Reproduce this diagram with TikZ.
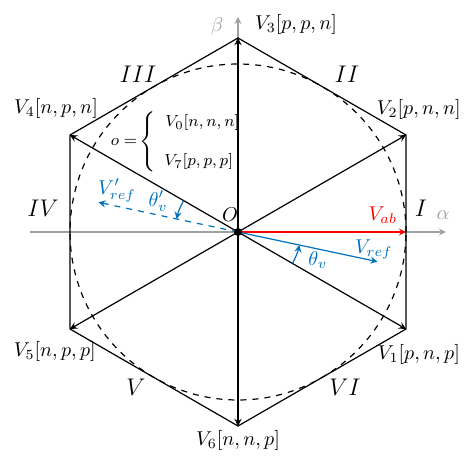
\documentclass[tikz,border=0pt]{standalone}
\usepackage{amsmath, amssymb}
\usepackage{tikz}
\usetikzlibrary{arrows,%
                shapes,positioning}
\definecolor{refblue}{RGB}{0,114,189}
\definecolor{axisgray}{RGB}{160,160,160}

\begin{document}
\begin{tikzpicture}[>=stealth]
\tikzset{axis/.style={axisgray, semithick, ->},
         spoke/.style={black, semithick, ->},
         hexa/.style={black, semithick},
         sector/.style={font=\large},
         zerostate/.style={font=\footnotesize, anchor=west, inner sep=1pt}}
\useasboundingbox (-4.171,-4.083) rectangle (4.136,4.066);

\coordinate (O) at (0,0);
\coordinate (V1) at (-30:3.4);
\coordinate (V2) at (30:3.4);
\coordinate (V3) at (90:3.4);
\coordinate (V4) at (150:3.4);
\coordinate (V5) at (210:3.4);
\coordinate (V6) at (270:3.4);
\coordinate (alphaL) at (-3.645,0);
\coordinate (alphaR) at (3.645,0);
\coordinate (betaB) at (0,-3.38);
\coordinate (betaT) at (0,3.77);
\coordinate (Vab) at (2.944,0);
\coordinate (Vref) at (-12:2.5);
\coordinate (Vrefp) at (168:2.5);

% axes
\draw[axis] (alphaL) -- (alphaR);
\draw[axis] (betaB) -- (betaT);
\node[axisgray] (alpha) at (3.593,0.30) {$\alpha$};
\node[axisgray] (beta) at (-0.368,3.61) {$\beta$};

% inscribed circle and hexagon
\draw[semithick, dashed] (O) circle (2.944);
\draw[hexa] (V1) -- (V2) -- (V3) -- (V4) -- (V5) -- (V6) -- cycle;

\draw[spoke] (O) -- (V1);
\draw[spoke] (O) -- (V2);
\draw[spoke] (O) -- (V3);
\draw[spoke] (O) -- (V4);
\draw[spoke] (O) -- (V5);
\draw[spoke] (O) -- (V6);

% reference vectors
\draw[red, semithick, ->] (O) -- (Vab);
\draw[refblue, semithick, ->] (O) -- (Vref);
\draw[refblue, semithick, dashed, ->] (O) -- (Vrefp);
\draw[refblue, semithick, ->] (-30:1.1) arc (-30:-12:1.1);
\draw[refblue, semithick, ->] (150:1.1) arc (150:168:1.1);
\fill (O) circle (0.07);

% labels
\node[anchor=west] (l3) at (0.175,3.645) {$V_3[p,p,n]$};
\node (l2) at (3.17,2.14) {$V_2[p,n,n]$};
\node (l1) at (3.17,-2.14) {$V_1[p,n,p]$};
\node (l4) at (-3.19,2.17) {$V_4[n,p,n]$};
\node (l5) at (-3.21,-2.10) {$V_5[n,p,p]$};
\node (l6) at (0,-3.645) {$V_6[n,n,p]$};
\node (o) at (-0.14,0.30) {$O$};

% zero vectors
\node[font=\footnotesize] (oeq) at (-1.998,1.577) {$o=$};
\node (brace) at (-1.577,1.577) {$\Bigg\{$};
\node[zerostate] (V0) at (-1.314,1.911) {$V_0[n,n,n]$};
\node[zerostate] (V7) at (-1.332,1.227) {$V_7[p,p,p]$};

\node[sector] (s1) at (3.207,0.421) {$I$};
\node[sector] (s2) at (1.910,2.769) {$II$};
\node[sector] (s3) at (-1.753,2.769) {$III$};
\node[sector] (s4) at (-3.417,0.421) {$IV$};
\node[sector] (s5) at (-1.788,-2.716) {$V$};
\node[sector] (s6) at (1.875,-2.716) {$VI$};

\node[red] (lab) at (2.54,0.30) {$V_{ab}$};
\node[refblue] (lref) at (2.38,-0.30) {$V_{ref}$};
\node[refblue] (lth) at (1.40,-0.49) {$\theta_v$};
\node[refblue] (lrefp) at (-2.12,0.72) {$V'_{ref}$};
\node[refblue] (lthp) at (-1.40,0.54) {$\theta'_v$};
\end{tikzpicture}
\end{document}
